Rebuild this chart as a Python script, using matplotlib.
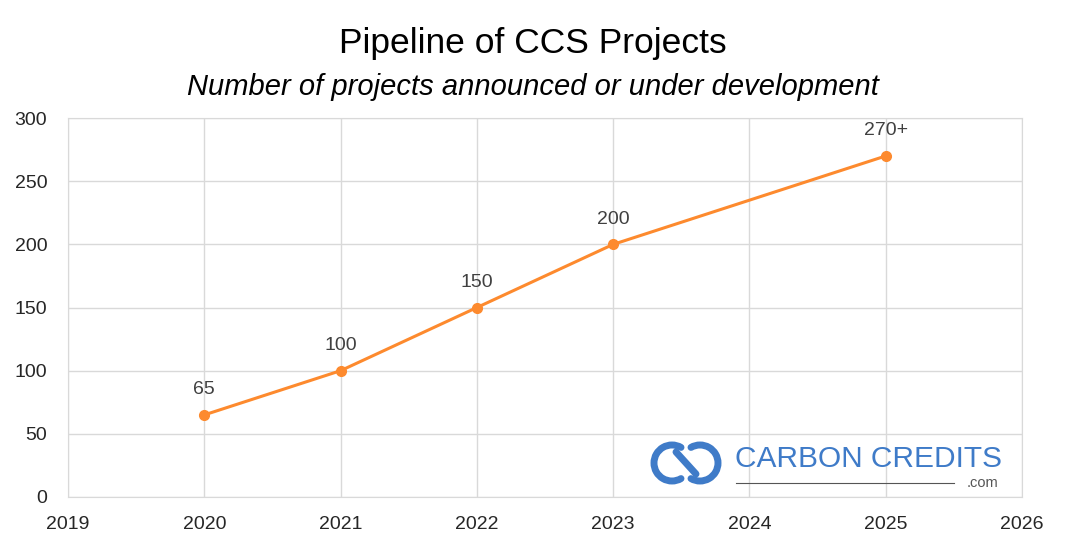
import matplotlib.pyplot as plt
from matplotlib.patches import Arc

years = [2020, 2021, 2022, 2023, 2025]
projects = [65, 100, 150, 200, 270]
labels = ['65', '100', '150', '200', '270+']

orange = '#fd8a2e'
blue = '#3f7bc8'
grid = '#d9d9d9'
sans = ['Liberation Sans', 'DejaVu Sans']

plt.rcParams['font.family'] = sans

fig = plt.figure(figsize=(10.68, 5.54), dpi=100)
ax = fig.add_axes([0.0637, 0.1029, 0.8933, 0.684])

ax.plot(years, projects, color=orange, lw=2.2, marker='o', ms=7, zorder=3)
for x, y, s in zip(years, projects, labels):
    ax.annotate(s, (x, y), xytext=(0, 18), textcoords='offset points',
                ha='center', va='center', fontsize=14, color='#404040')

ax.set_xlim(2019, 2026)
ax.set_ylim(0, 300)
ax.set_xticks(range(2019, 2027))
ax.set_yticks(range(0, 301, 50))
ax.grid(True, color=grid, lw=1)
for sp in ax.spines.values():
    sp.set_color(grid)
ax.tick_params(length=0, labelsize=14, colors='#262626')
ax.tick_params(axis='x', pad=14)
ax.tick_params(axis='y', pad=15)

fig.text(0.499, 0.922, 'Pipeline of CCS Projects', ha='center', va='center',
         fontsize=25.5, color='black')
fig.text(0.499, 0.843, 'Number of projects announced or under development',
         ha='center', va='center', fontsize=21, style='italic', color='black')

# logo
fig.text(0.688, 0.172, 'CARBON CREDITS', ha='left', va='center', fontsize=21.5,
         color=blue)
fig.text(0.935, 0.128, '.com', ha='right', va='center', fontsize=10.5,
         color='#555555')
fig.add_artist(plt.Line2D([0.689, 0.893], [0.129, 0.129], color='#555555', lw=0.8))
fig.add_artist(Arc((672, 91), 36, 36, theta1=60, theta2=300, transform=None,
                   color=blue, lw=5, capstyle='round'))
fig.add_artist(Arc((700, 91), 36, 36, theta1=240, theta2=120, transform=None,
                   color=blue, lw=5, capstyle='round'))
fig.add_artist(plt.Line2D([676, 696], [102, 80], transform=None, color=blue,
                          lw=5, solid_capstyle='round'))

fig.savefig('out.png', dpi=100, facecolor='white')
